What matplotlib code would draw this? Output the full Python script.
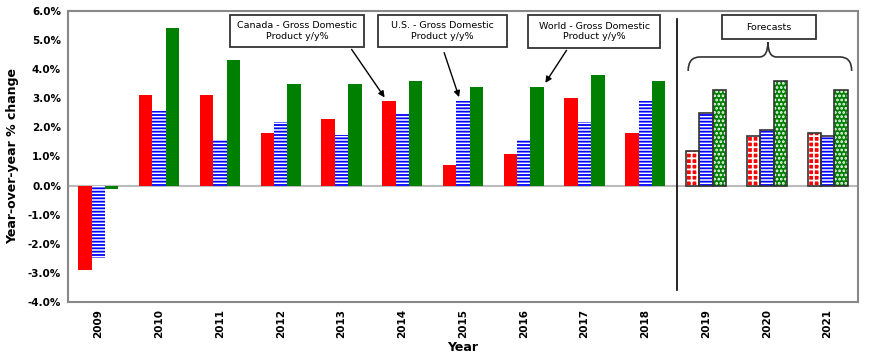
import matplotlib
matplotlib.use("Agg")
import matplotlib.pyplot as plt
import numpy as np
from matplotlib.patches import Rectangle, PathPatch
from matplotlib.path import Path

years = ["2009", "2010", "2011", "2012", "2013", "2014", "2015", "2016", "2017", "2018", "2019", "2020", "2021"]
canada = [-2.9, 3.1, 3.1, 1.8, 2.3, 2.9, 0.7, 1.1, 3.0, 1.8, 1.2, 1.7, 1.8]
us = [-2.5, 2.55, 1.55, 2.2, 1.75, 2.45, 2.9, 1.55, 2.2, 2.9, 2.5, 1.9, 1.7]
world = [-0.1, 5.4, 4.3, 3.5, 3.5, 3.6, 3.4, 3.4, 3.8, 3.6, 3.3, 3.6, 3.3]
n_hist = 10
yticks = [-4, -3, -2, -1, 0, 1, 2, 3, 4, 5, 6]

plt.rcParams['font.family'] = ['DejaVu Sans']
plt.rcParams['hatch.linewidth'] = 1.3

fig = plt.figure(figsize=(8.7, 3.54), dpi=100)
ax = fig.add_axes([68/870, 52/354, 790/870, 291/354])

x = np.arange(len(years))
w = 0.22
xh = x[:n_hist]
xf = x[n_hist:]

# historical
ax.bar(xh - w, canada[:n_hist], w, color='#ff0000', edgecolor='none', zorder=3)
ax.bar(xh, us[:n_hist], w, color='white', edgecolor='#0000ff', hatch='-----', linewidth=0, zorder=3)
ax.bar(xh + w, world[:n_hist], w, color='#008000', edgecolor='none', zorder=3)

# forecasts
ax.bar(xf - w, canada[n_hist:], w, color='#ff0000', edgecolor='white', hatch='+++', linewidth=0, zorder=3)
ax.bar(xf, us[n_hist:], w, color='white', edgecolor='#0000ff', hatch='-----', linewidth=0, zorder=3)
ax.bar(xf + w, world[n_hist:], w, color='#008000', edgecolor='white', hatch='....', linewidth=0, zorder=3)
for off, vals in [(-w, canada), (0, us), (w, world)]:
    ax.bar(xf + off, vals[n_hist:], w, color='none', edgecolor='#333333', linewidth=1.2, zorder=4)

ax.axhline(0, color='#bbbbbb', lw=1.5, zorder=2)
ax.axvline(n_hist - 0.48, ymin=0.041, ymax=0.973, color='black', lw=1.2)

ax.set_xlim(-0.5, len(years) - 0.5)
ax.set_ylim(-4, 6)
ax.set_yticks(yticks)
ax.set_yticklabels([f"{v:.1f}%" for v in yticks], fontsize=7.5, fontweight='bold')
ax.set_xticks(x)
ax.set_xticklabels(years, rotation=90, fontsize=7.5, fontweight='bold')
ax.tick_params(length=0, pad=5)
for s in ax.spines.values():
    s.set_color('#888888')
    s.set_linewidth(1.5)

ax.set_ylabel("Year-over-year % change", fontsize=9, fontweight='bold', labelpad=6)
ax.set_xlabel("Year", fontsize=9, fontweight='bold', labelpad=2)

def box(cx, cy, bw, bh, text):
    ax.add_patch(Rectangle((cx - bw/2, cy - bh/2), bw, bh, transform=ax.transAxes,
                           facecolor='white', edgecolor='#333333', lw=1.3, zorder=6, clip_on=False))
    ax.text(cx, cy, text, transform=ax.transAxes, ha='center', va='center',
            fontsize=6.8, zorder=7, linespacing=1.2)

box(0.290, 0.931, 134/790, 32/291, "Canada - Gross Domestic\nProduct y/y%")
box(0.474, 0.931, 129/790, 32/291, "U.S. - Gross Domestic\nProduct y/y%")
box(0.666, 0.929, 132/790, 33/291, "World - Gross Domestic\nProduct y/y%")
box(0.887, 0.945, 94/790, 24/291, "Forecasts")

arrowprops = dict(arrowstyle='-|>', color='black', lw=1.0, mutation_scale=9)
ax.annotate('', xy=(5 - w*1.2, 2.95), xytext=(0.357, 0.876), textcoords='axes fraction',
            arrowprops=arrowprops, zorder=8)
ax.annotate('', xy=(6 - 0.05, 2.95), xytext=(0.475, 0.866), textcoords='axes fraction',
            arrowprops=arrowprops, zorder=8)
ax.annotate('', xy=(7 + w*1.5, 3.45), xytext=(0.633, 0.873), textcoords='axes fraction',
            arrowprops=arrowprops, zorder=8)

# brace
verts = [(0.785, 0.794), (0.785, 0.842), (0.800, 0.842), (0.875, 0.842),
         (0.886, 0.842), (0.886, 0.893), (0.886, 0.842), (0.897, 0.842),
         (0.977, 0.842), (0.992, 0.842), (0.992, 0.794)]
codes = [Path.MOVETO, Path.CURVE3, Path.CURVE3, Path.LINETO,
         Path.CURVE3, Path.CURVE3, Path.CURVE3, Path.CURVE3,
         Path.LINETO, Path.CURVE3, Path.CURVE3]
ax.add_patch(PathPatch(Path(verts, codes), transform=ax.transAxes, facecolor='none',
                       edgecolor='#333333', lw=1.2, clip_on=False))

fig.savefig("out.png", dpi=100)
